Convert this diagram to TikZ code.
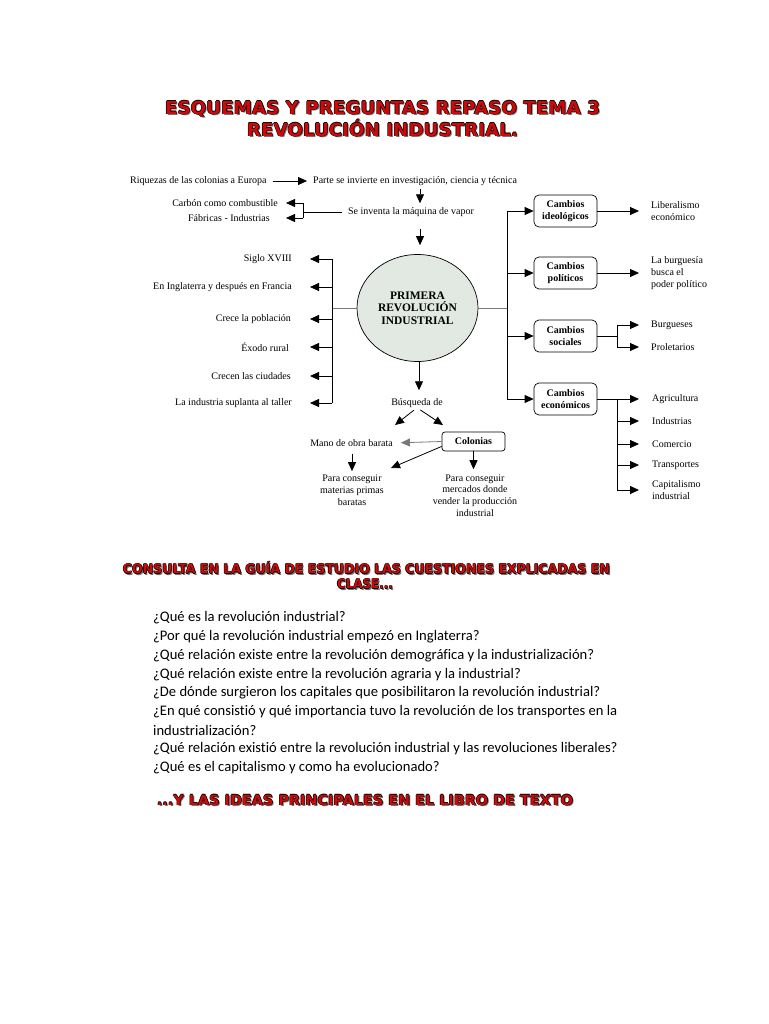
\documentclass[tikz,border=0pt]{standalone}
\usepackage{fontspec}
\usepackage{graphicx}
\setmainfont{Liberation Serif}
\newfontfamily\qfont{Carlito}[Ligatures={NoCommon}]
\newfontfamily\hfont{DejaVu Sans}
\usetikzlibrary{arrows.meta,shapes.geometric,calc}
\definecolor{titlered}{RGB}{205,10,10}
\definecolor{circfill}{RGB}{226,232,226}
\definecolor{lgrey}{RGB}{120,120,120}
\newcommand\dsize{\fontsize{10}{11.8}\selectfont}
\newcommand\fancy[4]{%
  \foreach \dx/\dy/\cc [count=\i] in {1.4/1.4/black!55, -0.6/0/black, 0.6/0/black, 0/-0.6/black, 0/0.6/black}{%
    \node[inner sep=0pt, text=\cc] (#1-\i) at ([shift={(\dx,\dy)}]#2) {\resizebox{#3pt}{\height}{\hfont\bfseries #4}};}
  \node[inner sep=0pt, text=titlered] (#1) at (#2) {\resizebox{#3pt}{\height}{\hfont\bfseries #4}};
}
\tikzset{
  dl/.style={font=\dsize, inner sep=0pt},
  arr/.style={-{Triangle[length=9pt,width=8pt]}, line width=0.8pt},
  ln/.style={line width=0.8pt},
  cbox/.style={draw, rounded corners=5pt, line width=0.7pt, minimum width=63pt, minimum height=32pt, align=center, inner sep=1pt, font=\dsize\bfseries},
  qline/.style={font=\qfont\fontsize{14.6}{17}\selectfont, inner sep=0pt, anchor=west},
}
\begin{document}
\begin{tikzpicture}[x=1pt,y=-1pt]
\useasboundingbox (0,0) rectangle (768,1024);

% titles
\fancy{t1}{382.5,109}{435}{\fontsize{17.8}{20}\selectfont ESQUEMAS Y PREGUNTAS REPASO TEMA 3}
\fancy{t2}{382.5,128}{271}{\fontsize{17.8}{20}\selectfont REVOLUCIÓN INDUSTRIAL.}

% top chain
\coordinate (cx) at (420,0);
\node[dl, anchor=west] (riq) at (130,181) {Riquezas de las colonias a Europa};
\node[dl, anchor=west] (parte) at (313,181) {Parte se invierte en investigación, ciencia y técnica};
\draw[arr, shorten <=6pt, shorten >=6pt] (riq.east) -- (parte.west);
\node[dl] (maq) at (411,212) {Se inventa la máquina de vapor};
\draw[arr, shorten <=3pt, shorten >=4pt] (parte.south -| cx) -- (maq.north -| cx);

\node[dl, anchor=east] (carb) at (278,203) {Carbón como combustible};
\node[dl, anchor=east] (fab) at (270,218) {Fábricas - Industrias};
\coordinate (bj) at (303,212);
\coordinate (lt) at (286,0);
\draw[ln, shorten <=6pt] (maq.west) -- (maq.west -| bj);
\draw[ln] (carb.east -| bj) -- (fab.east -| bj);
\draw[arr] (carb.east -| bj) -- (carb.east -| lt);
\draw[arr] (fab.east -| bj) -- (fab.east -| lt);

% circle
\node[ellipse, draw, line width=0.7pt, fill=circfill, minimum width=121pt, minimum height=107pt, inner sep=0pt, align=center, font=\fontsize{11.5}{12.5}\selectfont\bfseries] (circ) at (417.5,308) {PRIMERA\\REVOLUCIÓN\\INDUSTRIAL};
\draw[arr, shorten <=12pt, shorten >=9pt] (maq.south -| cx) -- (circ.north -| cx);

% left bracket
\coordinate (lb) at (332,0);
\coordinate (ltip) at (310,0);
\node[dl, anchor=east] (l1) at (292,259) {Siglo XVIII};
\node[dl, anchor=east] (l2) at (292,287) {En Inglaterra y después en Francia};
\node[dl, anchor=east] (l3) at (291,319) {Crece la población};
\node[dl, anchor=east] (l4) at (289,347) {Éxodo rural};
\node[dl, anchor=east] (l5) at (291,376) {Crecen las ciudades};
\node[dl, anchor=east] (l6) at (292,403) {La industria suplanta al taller};
\draw[ln, lgrey] (circ.west) -- (circ.west -| lb);
\draw[ln] (l1 -| lb) -- (l6 -| lb);
\foreach \n in {l1,l2,l3,l4,l5,l6}{\draw[arr] (\n -| lb) -- (\n -| ltip);}

% right bracket
\coordinate (rb) at (507,0);
\coordinate (rtip) at (639,0);
\coordinate (sj) at (617,0);
\node[cbox] (b1) at (565.5,211) {Cambios\\ideológicos};
\node[cbox] (b2) at (565.5,273) {Cambios\\políticos};
\node[cbox] (b3) at (565.5,336) {Cambios\\sociales};
\node[cbox] (b4) at (565.5,399) {Cambios\\económicos};
\draw[ln, lgrey] (circ.east) -- (circ.east -| rb);
\draw[ln] (b1.west -| rb) -- (b4.west -| rb);
\foreach \n in {b1,b2,b3,b4}{\draw[arr] (\n.west -| rb) -- (\n.west);}

\node[dl, anchor=west, align=left] (r1) at (651,211) {Liberalismo\\económico};
\node[dl, anchor=west, align=left] (r2) at (651,273) {La burguesía\\busca el\\poder político};
\draw[arr] (b1.east) -- (b1.east -| rtip);
\draw[arr] (b2.east) -- (b2.east -| rtip);

\node[dl, anchor=west] (s1) at (651,325) {Burgueses};
\node[dl, anchor=west] (s2) at (651,347) {Proletarios};
\draw[ln] (b3.east) -- (b3.east -| sj);
\draw[ln] (s1 -| sj) -- (s2 -| sj);
\draw[arr] (s1 -| sj) -- (s1 -| rtip);
\draw[arr] (s2 -| sj) -- (s2 -| rtip);

\node[dl, anchor=west] (e1) at (652,399) {Agricultura};
\node[dl, anchor=west] (e2) at (652,421) {Industrias};
\node[dl, anchor=west] (e3) at (652,444) {Comercio};
\node[dl, anchor=west] (e4) at (652,465) {Transportes};
\node[dl, anchor=west, align=left] (e5) at (652,490) {Capitalismo\\industrial};
\draw[arr] (b4.east) -- (b4.east -| rtip);
\draw[ln] (b4.east -| sj) -- (e5 -| sj);
\foreach \n in {e2,e3,e4,e5}{\draw[arr] (\n -| sj) -- (\n -| rtip);}

% bottom
\coordinate (bx) at (419,0);
\node[dl] (bus) at (417,403) {Búsqueda de};
\draw[arr, shorten >=8pt] (circ.south -| bx) -- (bus.north -| bx);
\node[dl] (mano) at (351.5,443) {Mano de obra barata};
\node[draw, rounded corners=3pt, line width=0.7pt, minimum width=63pt, minimum height=19pt, inner sep=1pt, font=\dsize\bfseries] (col) at (473.5,441.5) {Colonias};
\coordinate (d1) at (395,425);
\coordinate (d2) at (443,425);
\coordinate (d3) at (391,468);
\draw[arr, shorten <=4pt] (bus.south) -- (d1);
\draw[arr, shorten <=4pt] (bus.south) -- (d2);
\draw[arr, lgrey, shorten >=8pt] (col.west) -- (mano.east);
\draw[arr] ($(col.west)!0.5!(col.south west)$) -- (d3);
\node[dl, align=center] (p1) at (352,490.5) {Para conseguir\\materias primas\\baratas};
\node[dl, align=center] (p2) at (475,495.5) {Para conseguir\\mercados donde\\vender la producción\\industrial};
\draw[arr, shorten <=7pt, shorten >=4pt] (mano.south -| p1) -- (p1.north);
\draw[arr, shorten >=5pt] (col.south) -- (col.south |- p2.north);

% heading
\fancy{h1}{366.5,568}{487}{\fontsize{13}{15}\selectfont CONSULTA EN LA GUÍA DE ESTUDIO LAS CUESTIONES EXPLICADAS EN}
\fancy{h2}{365,584}{56}{\fontsize{13}{15}\selectfont CLASE...}

% questions
\node[qline] (q1) at (153,618) {¿Qué es la revolución industrial?};
\node[qline] (q2) at (153,637) {¿Por qué la revolución industrial empezó en Inglaterra?};
\node[qline] (q3) at (153,656) {¿Qué relación existe entre la revolución demográfica y la industrialización?};
\node[qline] (q4) at (153,675) {¿Qué relación existe entre la revolución agraria y la industrial?};
\node[qline] (q5) at (153,693) {¿De dónde surgieron los capitales que posibilitaron la revolución industrial?};
\node[qline] (q6) at (153,712) {¿En qué consistió y qué importancia tuvo la revolución de los transportes en la};
\node[qline] (q7) at (153,730) {industrialización?};
\node[qline] (q8) at (153,749) {¿Qué relación existió entre la revolución industrial y las revoluciones liberales?};
\node[qline] (q9) at (153,768) {¿Qué es el capitalismo y como ha evolucionado?};

\fancy{f1}{365,800}{416}{\fontsize{14}{16}\selectfont ...Y LAS IDEAS PRINCIPALES EN EL LIBRO DE TEXTO}
\end{tikzpicture}
\end{document}
